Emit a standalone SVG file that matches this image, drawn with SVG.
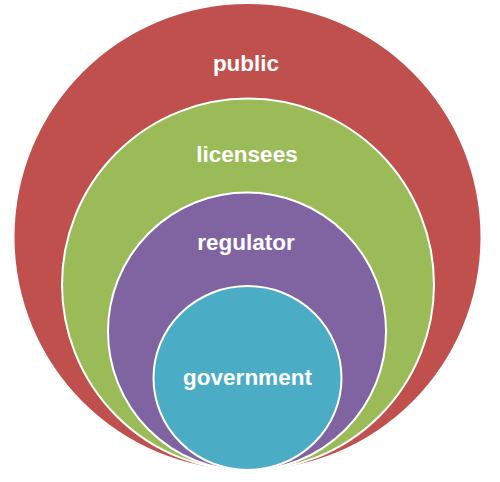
<svg xmlns="http://www.w3.org/2000/svg" width="500" height="482" viewBox="0 0 500 482">
<style>
.c{stroke:#ffffff;stroke-width:2}
.t{font-family:"Liberation Sans",Arial,sans-serif;font-weight:bold;font-size:22.5px;fill:#ffffff;text-anchor:middle}
</style>
<rect width="500" height="482" fill="#ffffff"/>
<g id="public">
<circle cx="247.5" cy="237" r="233" fill="#C0504D"/>
<text class="t" x="246" y="71">public</text>
</g>
<g id="licensees">
<circle class="c" cx="248" cy="284.5" r="186" fill="#9BBB59"/>
<text class="t" x="247" y="162">licensees</text>
</g>
<g id="regulator">
<circle class="c" cx="247" cy="331.5" r="139" fill="#8064A2"/>
<text class="t" x="246" y="250">regulator</text>
</g>
<g id="government">
<ellipse class="c" cx="247.5" cy="378" rx="94" ry="92" fill="#4BACC6"/>
<text class="t" x="247.5" y="385">government</text>
</g>
<g id="connectors"/>
</svg>
